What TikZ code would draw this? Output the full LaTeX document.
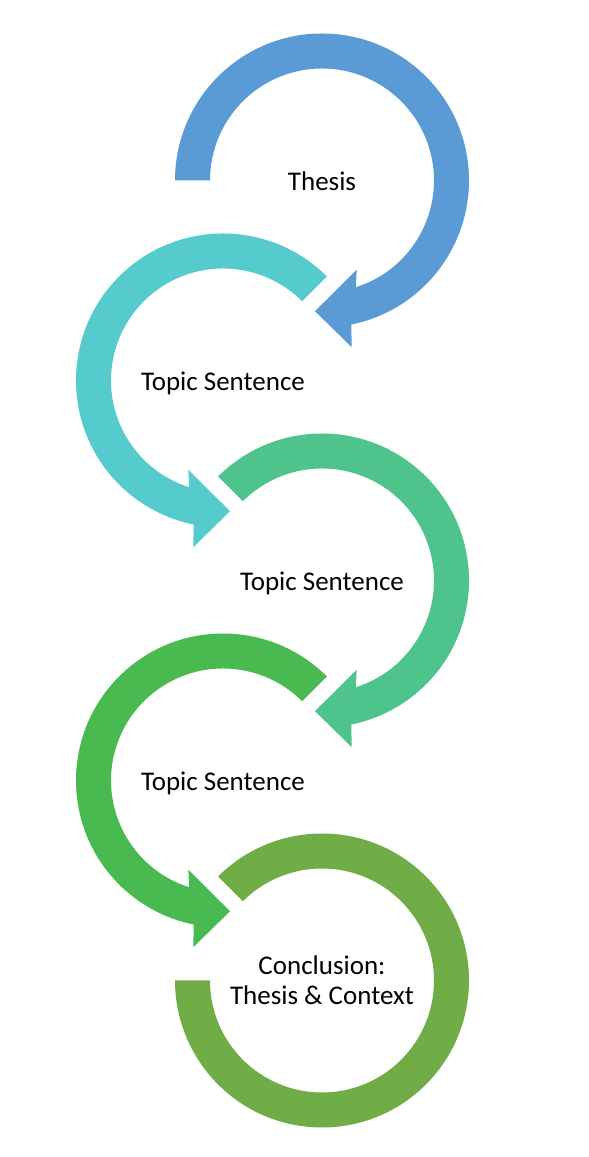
\documentclass[tikz,border=0pt]{standalone}
\usepackage{fontspec}
\setmainfont{Carlito}
\usetikzlibrary{calc}
\definecolor{cblue}{HTML}{5B9BD5}
\definecolor{cteal}{HTML}{55CBCD}
\definecolor{cmint}{HTML}{4EC48C}
\definecolor{cgreen}{HTML}{48BA4F}
\definecolor{colive}{HTML}{70AD47}
\tikzset{
  band/.style={draw=none},
  label/.style={text=black, font=\fontsize{27}{29.5}\selectfont, inner sep=0pt, anchor=base, align=center},
}
% circular arrow in the orientation of the first one: starts at #1 (deg), runs clockwise, ends in a head near the bottom
\newcommand\circarrowshape[2]{%
  \fill[band, #2] (#1:147) arc[start angle=#1, end angle=-78.5, radius=147]
    -- (-79.9:169.3) -- (-93.07:130.9) -- (-68.8:95.8) -- (-72.4:112)
    arc[start angle=-72.4, end angle=#1, radius=112] -- cycle;}
\begin{document}
\begin{tikzpicture}[x=1pt,y=1pt]
\useasboundingbox (0,0) rectangle (589,1157);
\fill[white] (0,0) rectangle (589,1157);
\coordinate (c1) at (322,976.5);
\coordinate (c2) at (223,776.5);
\coordinate (c3) at (322,576.5);
\coordinate (c4) at (223,376.5);
\coordinate (c5) at (322,176.5);
\begin{scope}[shift={(c1)}]\circarrowshape{180}{cblue}\end{scope}
\begin{scope}[shift={(c2)},xscale=-1]\circarrowshape{135}{cteal}\end{scope}
\begin{scope}[shift={(c3)}]\circarrowshape{135}{cmint}\end{scope}
\begin{scope}[shift={(c4)},xscale=-1]\circarrowshape{135}{cgreen}\end{scope}
\fill[band, colive] ($(c5)+(135:147)$) arc[start angle=135, end angle=-180, radius=147]
  -- ++(35,0) arc[start angle=-180, end angle=135, radius=112] -- cycle;
\node[label] (t1) at ($(c1)+(0,-10)$) {Thesis};
\node[label] (t2) at ($(c2)+(0,-10)$) {Topic Sentence};
\node[label] (t3) at ($(c3)+(0,-10)$) {Topic Sentence};
\node[label] (t4) at ($(c4)+(0,-10)$) {Topic Sentence};
\node[label] (t5) at ($(c5)+(0,-24)$) {Conclusion:\\Thesis \& Context};
\end{tikzpicture}
\end{document}
